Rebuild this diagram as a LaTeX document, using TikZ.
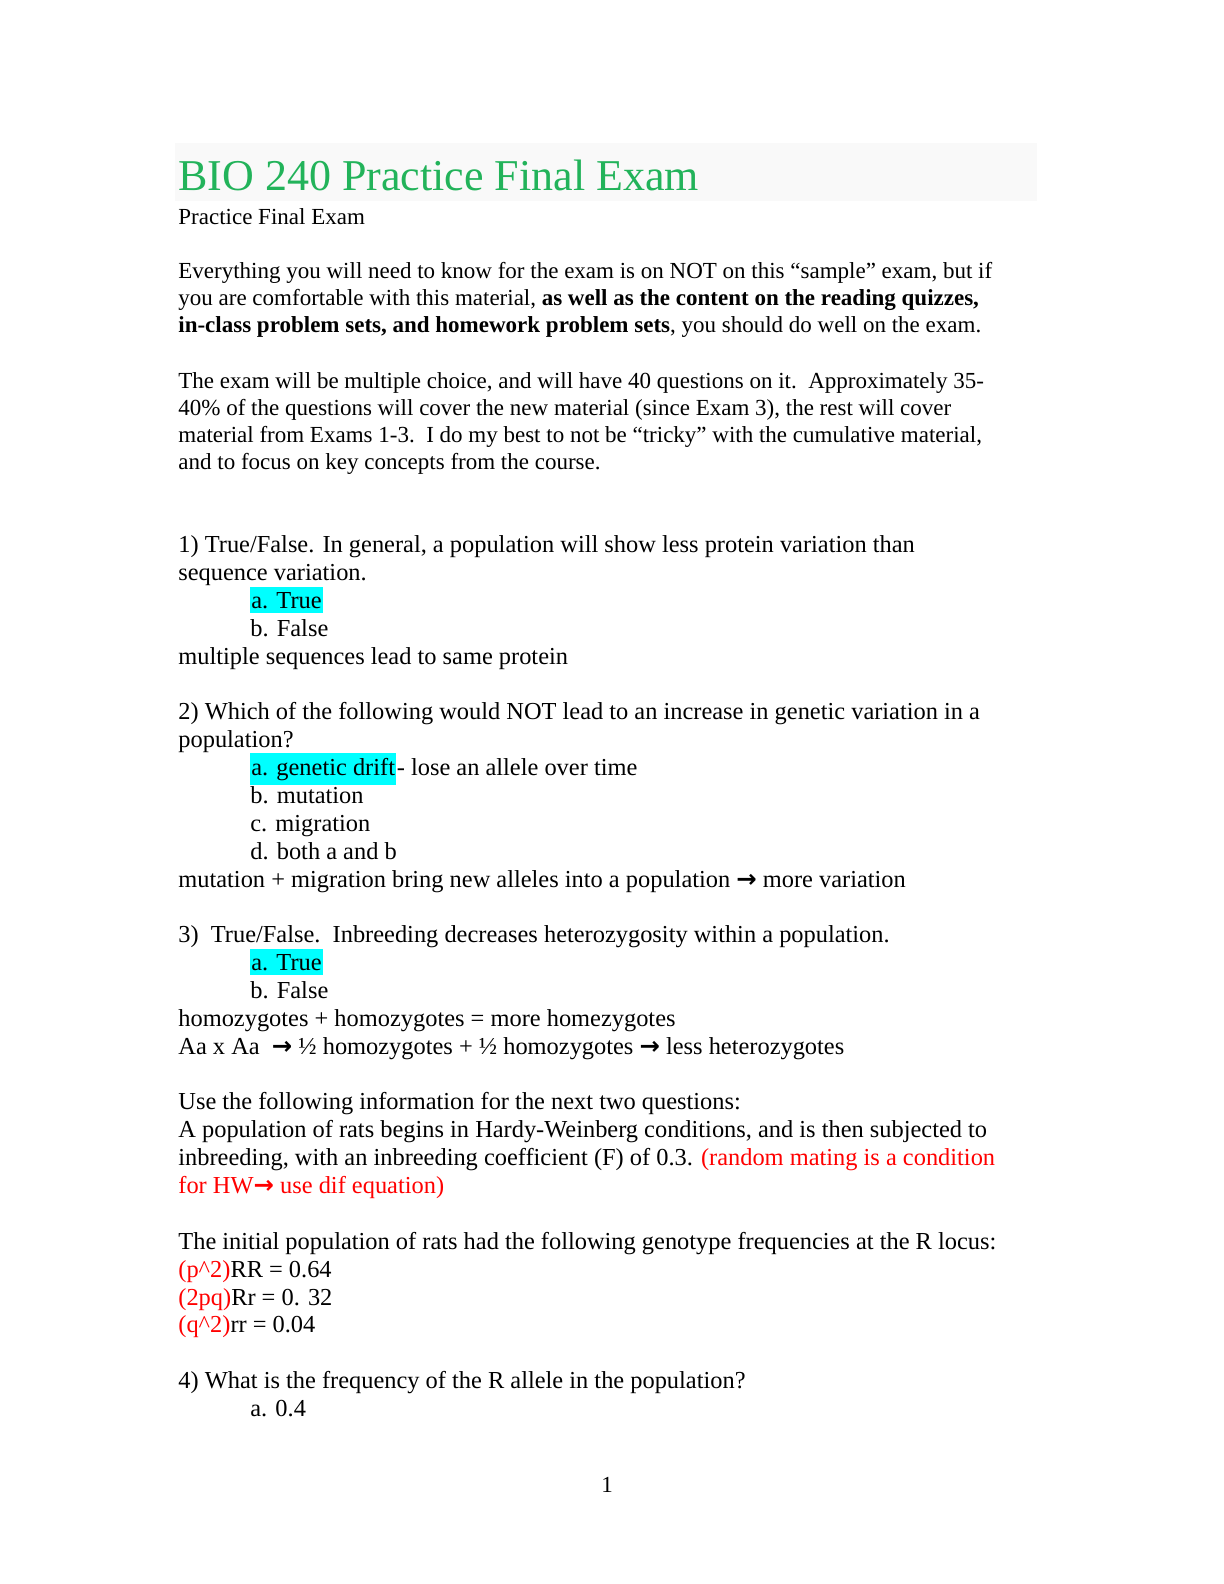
\documentclass[tikz,border=0pt]{standalone}
\usepackage{fontspec}
\setmainfont{Liberation Serif}
\newfontfamily\arr{DejaVu Sans}
\definecolor{tgreen}{HTML}{22B35A}
\definecolor{hl}{HTML}{00FFFF}
\newcommand{\ra}{{\arr\bfseries →}}
\begin{document}
\begin{tikzpicture}[x=0.5pt,y=-0.5pt,
  tl/.style={anchor=base west,inner sep=0pt,font=\fontsize{11.5pt}{13pt}\selectfont},
  cl/.style={anchor=base west,inner sep=0pt,font=\fontsize{12.2pt}{14pt}\selectfont},
  hi/.style={fill=hl,inner ysep=2.5pt,inner xsep=0.5pt}]
\useasboundingbox (0,0) rectangle (1224,1584);
\fill[gray!5] (175,143) rectangle (1037,201);
\node[anchor=base west,inner sep=0pt,text=tgreen,font=\fontsize{22pt}{24pt}\selectfont] (title) at (178,190) {BIO 240 Practice Final Exam};
\node[tl] (s) at (178,224) {Practice Final Exam};
\node[tl] (p1) at (178,278) {Everything you will need to know for the exam is on NOT on this “sample” exam, but if};
\node[tl] (p2) at (178,305) {you are comfortable with this material, \textbf{as well as the content on the reading quizzes,}};
\node[tl] (p3) at (178,332) {\textbf{in-class problem sets, and homework problem sets}, you should do well on the exam.};
\node[tl] (q1) at (178,388) {The exam will be multiple choice, and will have 40 questions on it.\ \ Approximately 35-};
\node[tl] (q2) at (178,415) {40\% of the questions will cover the new material (since Exam 3), the rest will cover};
\node[tl] (q3) at (178,442) {material from Exams 1-3.\ \ I do my best to not be “tricky” with the cumulative material,};
\node[tl] (q4) at (178,469) {and to focus on key concepts from the course.};
\node[cl] (a1) at (178,552) {1) True/False. In general, a population will show less protein variation than};
\node[cl] (a2) at (178,580) {sequence variation.};
\node[cl,hi] (a3) at (250,608) {a. True};
\node[cl] (a4) at (250,636) {b. False};
\node[cl] (a5) at (178,664) {multiple sequences lead to same protein};
\node[cl] (b1) at (178,719) {2) Which of the following would NOT lead to an increase in genetic variation in a};
\node[cl] (b2) at (178,747) {population?};
\node[cl,hi] (b3) at (250,775) {a. genetic drift};
\node[cl,anchor=base west] (b3b) at (b3.base east) {- lose an allele over time};
\node[cl] (b4) at (250,803) {b. mutation};
\node[cl] (b5) at (250,831) {c. migration};
\node[cl] (b6) at (250,859) {d. both a and b};
\node[cl] (b7) at (178,887) {mutation + migration bring new alleles into a population \ra\ more variation};
\node[cl] (c1) at (178,942) {3)\ \ True/False.\ \ Inbreeding decreases heterozygosity within a population.};
\node[cl,hi] (c2) at (250,970) {a. True};
\node[cl] (c3) at (250,998) {b. False};
\node[cl] (c4) at (178,1026) {homozygotes + homozygotes = more homezygotes};
\node[cl] (c5) at (178,1054) {Aa x Aa\ \ \ra\ ½ homozygotes + ½ homozygotes \ra\ less heterozygotes};
\node[cl] (d1) at (178,1109) {Use the following information for the next two questions:};
\node[cl] (d2) at (178,1137) {A population of rats begins in Hardy-Weinberg conditions, and is then subjected to};
\node[cl] (d3) at (178,1165) {inbreeding, with an inbreeding coefficient (F) of 0.3. \textcolor{red}{(random mating is a condition}};
\node[cl,text=red] (d4) at (178,1193) {for HW\ra\ use dif equation)};
\node[cl] (e1) at (178,1249) {The initial population of rats had the following genotype frequencies at the R locus:};
\node[cl] (e2) at (178,1277) {\textcolor{red}{(p\^{}2)}RR = 0.64};
\node[cl] (e3) at (178,1305) {\textcolor{red}{(2pq)}Rr = 0. 32};
\node[cl] (e4) at (178,1332) {\textcolor{red}{(q\^{}2)}rr = 0.04};
\node[cl] (f1) at (178,1388) {4) What is the frequency of the R allele in the population?};
\node[cl] (f2) at (250,1416) {a. 0.4};
\node[tl] (pg) at (601,1492) {1};
\end{tikzpicture}
\end{document}
